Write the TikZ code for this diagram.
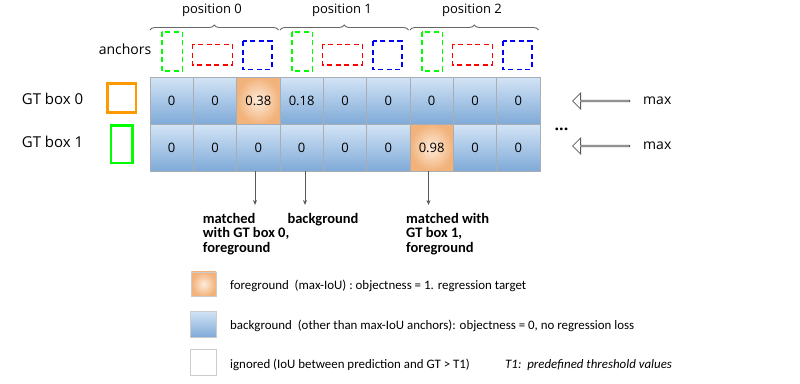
\documentclass[tikz,border=0pt]{standalone}
\usepackage{fontspec}
\setmainfont{Open Sans}
\newfontfamily\legfont{Carlito}
\usetikzlibrary{decorations.pathreplacing,shapes.arrows,arrows.meta}
\definecolor{celltop}{HTML}{D3E4F5}
\definecolor{cellbot}{HTML}{7FAAD8}
\definecolor{cellline}{HTML}{A9AEB4}
\definecolor{orin}{HTML}{FDEBDB}
\definecolor{orout}{HTML}{F2B27A}
\definecolor{orbox}{HTML}{FF9900}
\definecolor{gbox}{HTML}{00FF00}
\tikzset{
  cell/.style={draw=cellline, line width=0.8pt, minimum width=43.33pt, minimum height=47pt, inner sep=0pt, top color=celltop, bottom color=cellbot, font=\fontsize{13}{15}\selectfont},
  fgcell/.style={draw=cellline, line width=0.8pt, minimum width=43.33pt, minimum height=47pt, inner sep=0pt, inner color=orin, outer color=orout, font=\fontsize{13}{15}\selectfont},
  anc/.style={dashed, dash pattern=on 5pt off 3.5pt, line width=1.6pt},
  lbl/.style={font=\fontsize{15}{18}\selectfont, inner sep=0pt},
  bold/.style={font=\legfont\bfseries\fontsize{14.5}{14.5}\selectfont, align=left, inner sep=0pt, anchor=north west},
  legtxt/.style={font=\legfont\fontsize{12.9}{15}\selectfont, inner sep=0pt, anchor=west},
  darr/.style={draw=black!65, line width=1pt, -{Stealth[length=5pt,width=4pt]}},
  bigarr/.style={single arrow, shape border rotate=180, draw=black!65, line width=0.8pt, fill=white, minimum width=16pt, single arrow head extend=4pt, single arrow tip angle=90, minimum height=57pt, inner sep=0pt},
}
\begin{document}
\begin{tikzpicture}[x=1pt,y=-1pt]
\useasboundingbox (0,0) rectangle (800,383);
% braces and position labels
\foreach \i in {0,1,2}{
  \pgfmathsetmacro{\xa}{150+130*\i}
  \pgfmathsetmacro{\xb}{\xa+128.5}
  \draw[black!60, line width=0.9pt, decorate, decoration={brace, amplitude=5pt}] (\xa,30) -- (\xb,30) coordinate[midway] (bm\i);
  \node[font=\fontsize{13}{15}\selectfont, inner sep=0pt] (pos\i) at ({\xa+62},10) {position \i};
  % anchors
  \draw[anc, draw=gbox] ({161.7+130*\i},31.7) rectangle ({182.3+130*\i},70.7);
  \draw[anc, draw=red] ({192.3+130*\i},44.3) rectangle ({232.3+130*\i},65);
  \draw[anc, draw=blue] ({242.7+130*\i},41) rectangle ({271.7+130*\i},69.3);
}
\node[font=\fontsize{14}{16}\selectfont, inner sep=0pt, anchor=east] (anchors) at (151.5,49.3) {anchors};
% GT boxes
\node[lbl, anchor=west] (gt0) at (21.7,98.5) {GT box 0};
\node[lbl, anchor=west] (gt1) at (21.7,141.5) {GT box 1};
\draw[orbox, line width=2.5pt] (107.5,83.5) rectangle (136,112.5);
\draw[gbox, line width=2.5pt] (111,125.5) rectangle (132.3,163);
% grid
\foreach \v/\s [count=\c from 0] in {0/cell,0/cell,0.38/fgcell,0.18/cell,0/cell,0/cell,0/cell,0/cell,0/cell}{
  \node[\s] (r0c\c) at ({171.67+43.33*\c},100.5) {\v};
}
\foreach \v/\s [count=\c from 0] in {0/cell,0/cell,0/cell,0/cell,0/cell,0/cell,0.98/fgcell,0/cell,0/cell}{
  \node[\s] (r1c\c) at ({171.67+43.33*\c},147.5) {\v};
}
% dots
\node[font=\bfseries\fontsize{16}{16}\selectfont, inner sep=0pt] (dots) at (561.5,129.5) {...};
% max arrows
\node[bigarr] (a0) at (601.5,101) {};
\node[bigarr] (a1) at (601.5,146) {};
\node[font=\fontsize{14}{16}\selectfont, inner sep=0pt, anchor=west] (m0) at (643,101) {max};
\node[font=\fontsize{14}{16}\selectfont, inner sep=0pt, anchor=west] (m1) at (643,146) {max};
% down arrows
\coordinate (e0) at (255,205);
\coordinate (e1) at (305,205);
\coordinate (e2) at (428.5,205);
\draw[darr] (r1c2.south -| e0) -- (e0);
\draw[darr] (r1c3.south -| e1) -- (e1);
\draw[darr] (r1c6.south -| e2) -- (e2);
\node[bold] (t0) at (202.7,213) {matched\\with GT box 0,\\foreground};
\node[bold] (t1) at (287.3,213) {background};
\node[bold] (t2) at (406,213) {matched with\\GT box 1,\\foreground};
% legend
\node[draw=black!20, line width=0.8pt, minimum size=24.5pt, inner sep=0pt, inner color=orin, outer color=orout] (l0) at (203.7,284.2) {};
\node[draw=black!20, line width=0.8pt, minimum size=26pt, inner sep=0pt, top color=celltop, bottom color=cellbot] (l1) at (203.7,324) {};
\node[draw=black!20, line width=0.8pt, minimum size=26pt, inner sep=0pt, fill=white] (l2) at (203.7,362) {};
\node[legtxt] (lt0) at (230,285.7) {foreground\ \ (max-IoU) : objectness = 1. regression target};
\node[legtxt] (lt1) at (230,325.7) {background\ \ (other than max-IoU anchors): objectness = 0, no regression loss};
\node[legtxt] (lt2) at (230,365) {ignored (IoU between prediction and GT > T1)};
\node[legtxt, font=\legfont\itshape\fontsize{12.9}{15}\selectfont] (lt3) at (505,365) {T1:\ \ predefined threshold values};
\end{tikzpicture}
\end{document}
